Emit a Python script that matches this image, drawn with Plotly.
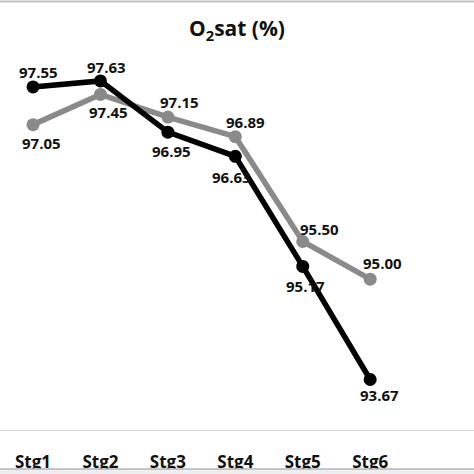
import plotly.graph_objects as go

stages = ["Stg1", "Stg2", "Stg3", "Stg4", "Stg5", "Stg6"]
series_black = [97.55, 97.63, 96.95, 96.63, 95.17, 93.67]
series_gray = [97.05, 97.45, 97.15, 96.89, 95.50, 95.00]
label_black = ["97.55", "97.63", "96.95", "96.63", "95.17", "93.67"]
label_gray = ["97.05", "97.45", "97.15", "96.89", "95.50", "95.00"]

# label offsets in pixels (style)
off_black = [(5, 15), (6, 14), (4, -19), (-4, -21), (3, -20), (9, -16)]
off_gray = [(8, -18), (8, -18), (12, 15), (10, 15), (17, 13), (12, 16)]

BLACK = "#000000"
GRAY = "#8a8a8a"

fig = go.Figure()
fig.add_trace(go.Scatter(x=stages, y=series_gray, mode="lines+markers",
                         line=dict(color=GRAY, width=5.5),
                         marker=dict(color=GRAY, size=13), showlegend=False))
fig.add_trace(go.Scatter(x=stages, y=series_black, mode="lines+markers",
                         line=dict(color=BLACK, width=5.5),
                         marker=dict(color=BLACK, size=13), showlegend=False))

annots = []
for xs, ys, labs, offs in [(stages, series_black, label_black, off_black),
                           (stages, series_gray, label_gray, off_gray)]:
    for x, y, t, (dx, dy) in zip(xs, ys, labs, offs):
        annots.append(dict(x=x, y=y, text=t, showarrow=False, xshift=dx, yshift=dy,
                           font=dict(family="Open Sans", size=15, color="#111111", weight="bold")))

fig.update_layout(
    width=474, height=474,
    margin=dict(l=0, r=0, t=53, b=44),
    paper_bgcolor="white", plot_bgcolor="white",
    title=dict(text="O<sub>2</sub>sat (%)", x=0.5, xanchor="center",
               y=1 - 29 / 474, yanchor="middle", yref="container",
               font=dict(family="Open Sans", size=21, color="#111111", weight="bold")),
    xaxis=dict(type="category", range=[-0.49, 6.54], showgrid=False, zeroline=False,
               showline=True, linecolor="#d9d9d9", linewidth=1, ticks="",
               ticklabelstandoff=17,
               tickfont=dict(family="Open Sans", size=17, color="#111111", weight="bold")),
    yaxis=dict(range=[93, 98], showgrid=False, zeroline=False, showline=False,
               showticklabels=False, ticks=""),
    annotations=annots,
    shapes=[
        dict(type="line", xref="paper", yref="paper", x0=0, x1=1,
             y0=(430 - 1.5) / 377, y1=(430 - 1.5) / 377,
             line=dict(color="#c4c4c4", width=2), layer="above"),
        dict(type="rect", xref="paper", yref="paper", x0=0, x1=1,
             y0=(430 - 474) / 377, y1=(430 - 469) / 377,
             fillcolor="#eeeeee", line=dict(width=0), layer="above"),
        dict(type="line", xref="paper", yref="paper", x0=0, x1=1,
             y0=(430 - 469) / 377, y1=(430 - 469) / 377,
             line=dict(color="#b5b5b5", width=1.5), layer="above"),
    ],
)

fig.write_html("out.html")
